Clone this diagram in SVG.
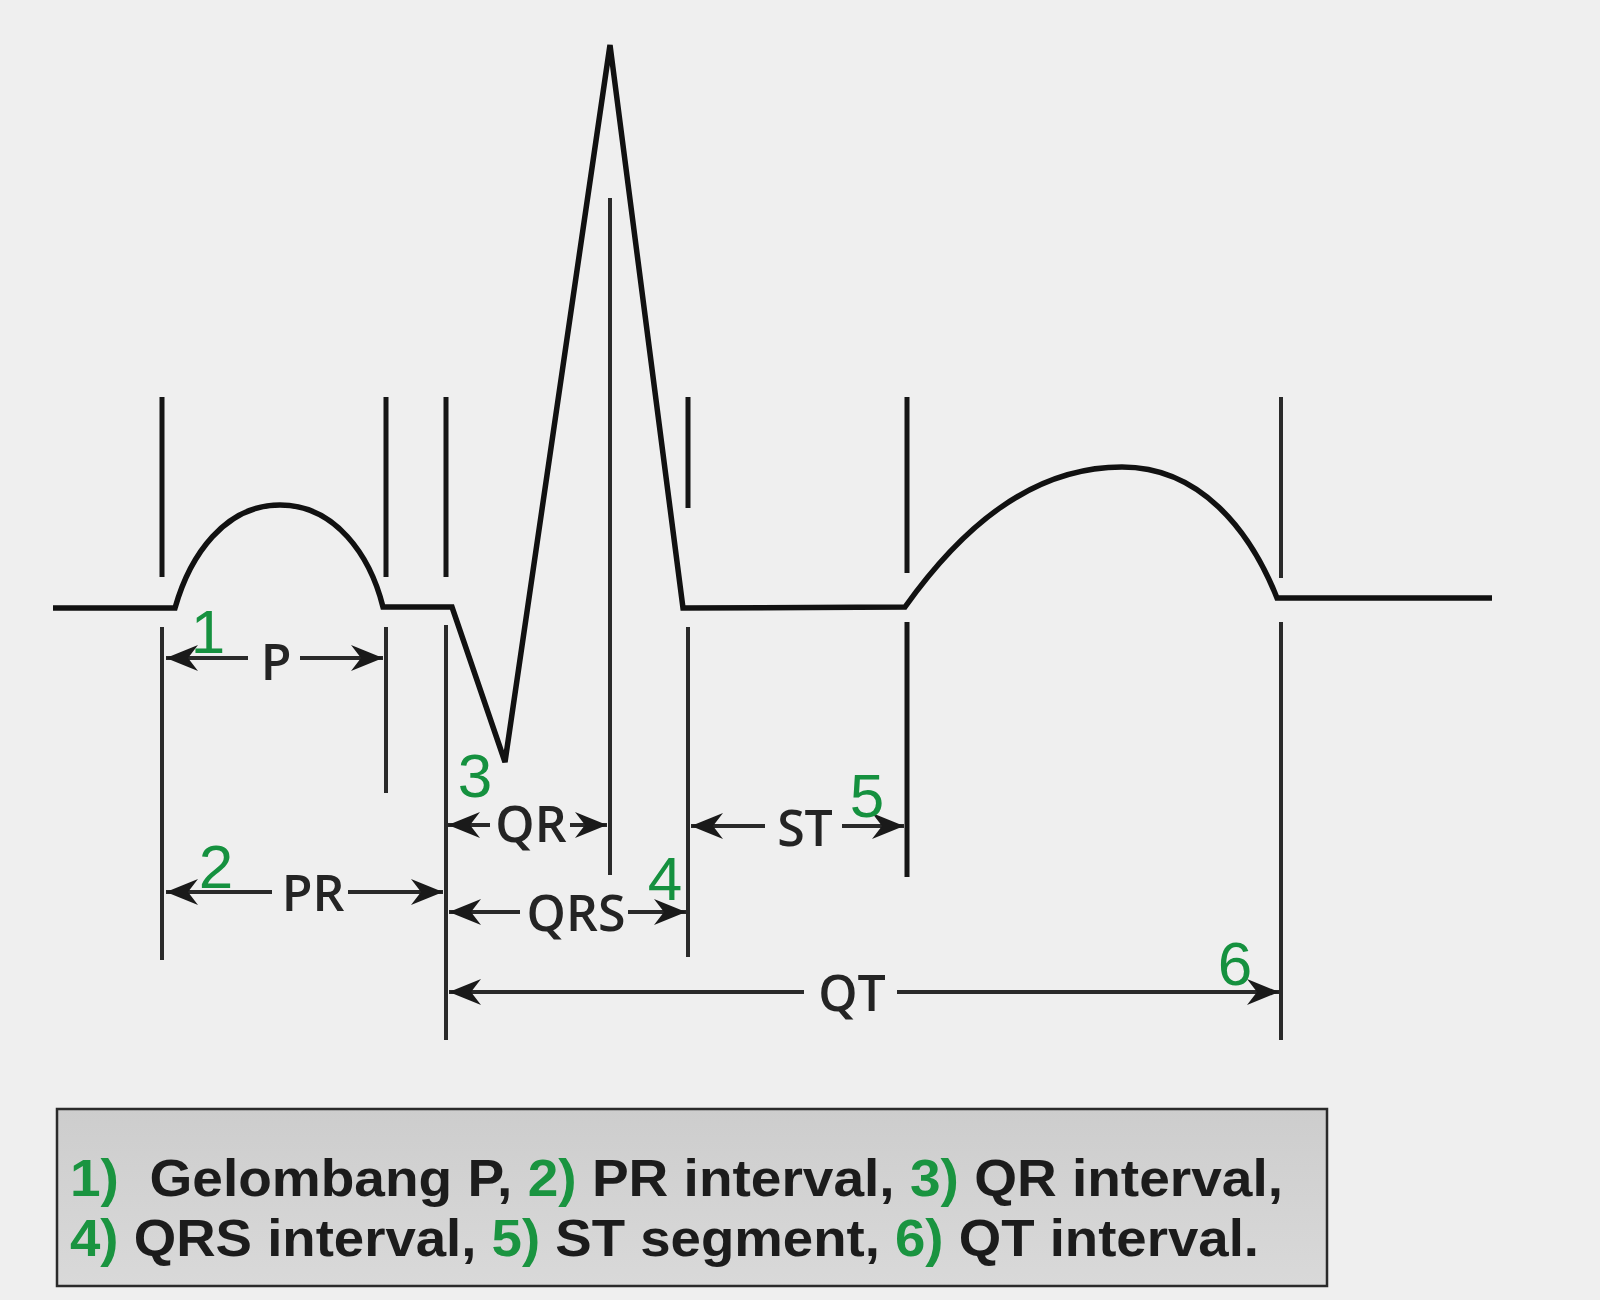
<svg xmlns="http://www.w3.org/2000/svg" width="1600" height="1300" viewBox="0 0 1600 1300">
<defs>
<marker id="ah" viewBox="-34 -15 36 30" markerWidth="36" markerHeight="30" refX="0" refY="0" orient="auto" markerUnits="userSpaceOnUse">
<path d="M0,0 L-32,-13 L-22,0 L-32,13 Z" fill="#1a1a1a"/>
</marker>
<linearGradient id="boxg" x1="0" y1="0" x2="0" y2="1">
<stop offset="0" stop-color="#cdcdcd"/>
<stop offset="1" stop-color="#d9d9d9"/>
</linearGradient>
</defs>
<style>
.wave{fill:none;stroke:#111;stroke-width:5.5;stroke-linejoin:miter}
.vl{stroke:#151515;stroke-width:5}
.vb{stroke:#2a2a2a;stroke-width:4}
.arr{fill:none;stroke:#2a2a2a;stroke-width:4;marker-end:url(#ah)}
.lbl{font-family:"Open Sans","DejaVu Sans",sans-serif;font-size:50px;font-weight:600;fill:#242424;text-anchor:middle}
.num{font-family:"Liberation Sans",Arial,sans-serif;font-size:62px;fill:#15913f;text-anchor:middle}
.cap{font-family:"Liberation Sans",Arial,sans-serif;font-size:52px;font-weight:bold;fill:#1c1c1c}
.g{fill:#1a9440}
</style>
<rect x="0" y="0" width="1600" height="1300" fill="#efefef"/>

<g id="waveform">
<path class="wave" d="M53,608 L175,608 C190,555 225,505 280,505 C335,505 370,555 383,607 L452,607 L505,762 L610,45 L683,608 L905,607 C960,530 1030,467 1122,467 C1200,467 1250,530 1277,598 L1492,598"/>
</g>

<g id="markers">
<line class="vl" x1="162" y1="397" x2="162" y2="577"/>
<line class="vb" x1="162" y1="627" x2="162" y2="960"/>
<line class="vl" x1="386" y1="397" x2="386" y2="577"/>
<line class="vb" x1="386" y1="627" x2="386" y2="793"/>
<line class="vl" x1="446" y1="397" x2="446" y2="577"/>
<line class="vb" x1="446" y1="625" x2="446" y2="1040"/>
<line class="vb" x1="610" y1="198" x2="610" y2="875"/>
<line class="vl" x1="688" y1="397" x2="688" y2="508"/>
<line class="vb" x1="688" y1="627" x2="688" y2="957"/>
<line class="vl" x1="907" y1="397" x2="907" y2="573"/>
<line class="vl" x1="907" y1="622" x2="907" y2="877"/>
<line class="vb" x1="1281" y1="397" x2="1281" y2="578"/>
<line class="vb" x1="1281" y1="622" x2="1281" y2="1040"/>
</g>

<g id="connectors">
<path class="arr" d="M248,658 L166,658"/>
<path class="arr" d="M300,658 L383,658"/>
<path class="arr" d="M490,825 L448,825"/>
<path class="arr" d="M570,825 L607,825"/>
<path class="arr" d="M272,892 L166,892"/>
<path class="arr" d="M348,892 L443,892"/>
<path class="arr" d="M520,912 L449,912"/>
<path class="arr" d="M628,912 L686,912"/>
<path class="arr" d="M765,826 L691,826"/>
<path class="arr" d="M842,826 L904,826"/>
<path class="arr" d="M804,992 L449,992"/>
<path class="arr" d="M897,992 L1279,992"/>
</g>

<g id="label-P"><text class="lbl" x="276" y="680">P</text></g>
<g id="label-QR"><text class="lbl" x="531" y="842">QR</text></g>
<g id="label-PR"><text class="lbl" x="313" y="911">PR</text></g>
<g id="label-QRS"><text class="lbl" x="576" y="931">QRS</text></g>
<g id="label-ST"><text class="lbl" x="805" y="846">ST</text></g>
<g id="label-QT"><text class="lbl" x="852" y="1011">QT</text></g>

<g id="numbers">
<text class="num" x="208" y="653">1</text>
<text class="num" x="216" y="888">2</text>
<text class="num" x="475" y="797">3</text>
<text class="num" x="665" y="900">4</text>
<text class="num" x="867" y="817">5</text>
<text class="num" x="1235" y="985">6</text>
</g>

<g id="legend">
<rect x="57" y="1109" width="1270" height="177" fill="url(#boxg)" stroke="#2a2a2a" stroke-width="2.5"/>
<text class="cap" x="70" y="1196" textLength="1213" lengthAdjust="spacingAndGlyphs" xml:space="preserve"><tspan class="g">1)</tspan>  Gelombang P, <tspan class="g">2)</tspan> PR interval, <tspan class="g">3)</tspan> QR interval,</text>
<text class="cap" x="70" y="1256" textLength="1189" lengthAdjust="spacingAndGlyphs" xml:space="preserve"><tspan class="g">4)</tspan> QRS interval, <tspan class="g">5)</tspan> ST segment, <tspan class="g">6)</tspan> QT interval.</text>
</g>
</svg>
